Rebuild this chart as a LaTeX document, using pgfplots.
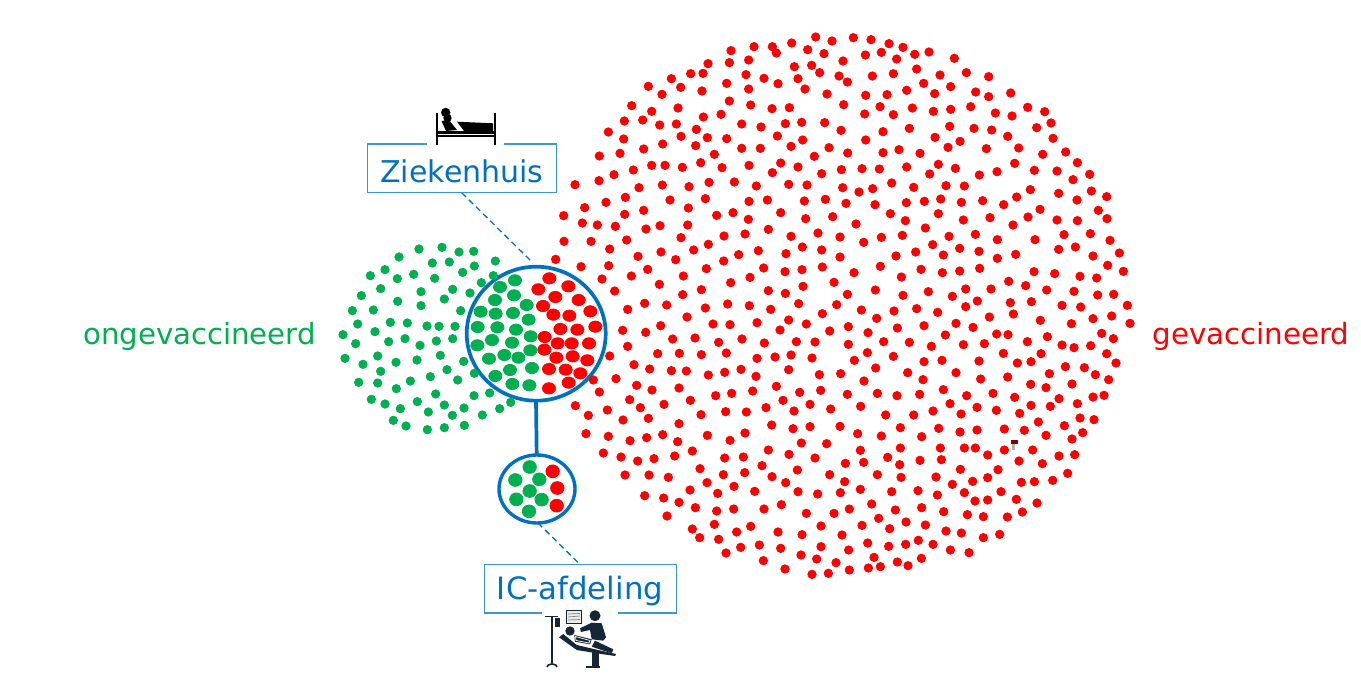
\documentclass[border=0pt]{standalone}
\usepackage{fontspec}
\setmainfont{DejaVu Sans}
\usepackage{pgfplots}
\pgfplotsset{compat=1.18}
\definecolor{cGreen}{RGB}{0,176,80}
\definecolor{cRed}{RGB}{255,0,0}
\definecolor{cBlue}{RGB}{0,112,192}
\definecolor{cBox}{RGB}{60,150,215}
\definecolor{cIcon}{RGB}{22,38,54}
% dots are read from 3x crops of the picture: crop={left}{top} puts them back in pixels
\pgfplotsset{
  crop/.style n args={2}{x filter/.expression={x/3+#1},y filter/.expression={y/3+#2}},
  dot/.style={only marks,mark=*,color=#1,mark size=2.1pt},
  bigdot/.style={only marks,mark=*,color=#1,mark size=2.9pt,mark options={xscale=1.13,yscale=0.97}},
  icdot/.style={only marks,mark=*,color=#1,mark size=3.2pt,mark options={xscale=1.05}},
}
\begin{document}
\begin{tikzpicture}
\begin{axis}[
  scale only axis,width=680.5pt,height=336.5pt,
  xmin=0,xmax=1361,ymin=0,ymax=673,y dir=reverse,
  hide axis,clip=false]
\path (0,0) rectangle (1361,673);
% ongevaccineerd
\addplot[dot=cGreen,crop={330}{230}] coordinates {
(267,57)(336,52)(387,66)(431,64)(207,81)(307,99)(358,96)(433,108)(496,93)(165,119)(121,137)(202,146)(251,133)(314,145)(398,127)(490,137)(454,158)(152,176)(94,197)(273,185)(368,178)(420,189)(343,207)(203,214)(273,227)(392,242)(130,240)(67,242)(83,282)(181,277)(232,279)(291,288)(327,289)(375,289)(135,305)(39,314)(77,341)(176,335)(225,326)(270,346)(319,333)(368,326)(45,385)(143,378)(99,403)(198,397)(261,390)(331,376)(401,394)(152,424)(351,419)(433,430)(86,457)(143,459)(241,453)(301,440)(383,450)(199,476)(317,492)(432,497)(479,489)(124,508)(165,522)(262,515)(343,525)(542,517)(211,536)(295,546)(402,534)(509,536)(190,571)(228,588)(367,556)(457,555)(292,599)(343,593)(403,586)
};
% gevaccineerd, upper left
\addplot[dot=cRed,crop={550}{25}] coordinates {
(797,36)(846,48)(725,54)(612,65)(667,65)(543,77)(679,84)(773,74)(822,86)(596,105)(538,113)(474,116)(879,108)(733,125)(785,121)(809,143)(422,146)(459,145)(588,149)(364,161)(642,160)(744,161)(867,153)(892,171)(530,175)(684,176)(392,187)(295,184)(596,192)(456,198)(765,192)(336,208)(831,207)(538,228)(602,240)(245,242)(384,249)(666,251)(718,248)(881,239)(305,259)(513,268)(460,276)(223,288)(278,285)(329,300)(379,297)(575,297)(633,306)(706,296)(755,292)(824,293)(439,313)(175,321)(873,316)(393,334)(472,338)(221,342)(530,341)(682,333)(758,345)(338,357)(437,362)(575,370)(631,370)(723,364)(837,368)(281,372)(210,385)(148,393)(493,388)(793,394)(893,384)(452,413)(305,421)(345,421)(397,427)(516,428)(597,421)(692,414)(744,426)(250,435)(667,443)(815,446)(874,434)(192,449)(147,467)(75,479)(477,472)(553,471)(337,480)(417,485)(267,488)(619,483)(716,478)(771,480)(878,488)(226,517)(466,521)(360,525)(168,532)(597,529)(652,525)(763,528)(826,523)(888,535)(104,548)(415,549)(281,556)(224,568)(549,563)(500,571)(692,563)(41,572)(595,583)(767,581)(848,575)(97,594)(142,600)(196,604)(330,602)(413,600)(288,612)(655,613)(585,627)(522,633)(723,634)(804,624)(870,636)(393,638)(230,645)(42,649)(123,649)(475,658)(757,666)(179,672)(431,675)(625,677)(815,675)(333,681)(566,689)(708,686)(264,694)(870,696)(17,703)(377,704)(521,708)(93,725)(176,722)(293,733)(469,731)(641,729)(817,726)(705,740)(756,734)(244,753)(400,753)(156,762)(542,773)(600,757)(328,778)(852,772)(759,784)(194,798)(454,794)(655,797)(398,809)(706,805)(892,808)
};
% upper right
\addplot[dot=cRed,crop={850}{25}] coordinates {
(10,38)(63,44)(117,56)(159,67)(46,90)(94,82)(194,88)(237,81)(140,102)(313,100)(200,132)(349,143)(67,153)(130,146)(270,150)(416,155)(221,175)(302,185)(170,196)(482,204)(377,201)(47,211)(111,209)(254,206)(416,215)(90,245)(187,249)(302,253)(362,245)(533,247)(584,260)(44,267)(130,269)(250,259)(436,264)(486,273)(603,294)(299,304)(178,310)(372,310)(425,315)(560,308)(99,320)(255,337)(473,334)(609,340)(47,345)(330,349)(294,367)(409,371)(506,369)(147,374)(99,383)(210,385)(647,381)(578,388)(682,413)(265,418)(494,415)(36,431)(88,432)(170,426)(316,430)(441,440)(553,436)(621,438)(719,448)(239,447)(388,450)(669,464)(125,474)(288,482)(343,483)(191,487)(68,491)(27,501)(541,494)(724,498)(626,505)(770,515)(272,522)(500,516)(169,533)(223,529)(334,532)(398,527)(461,539)(681,525)(75,539)(745,556)(570,553)(121,566)(265,566)(534,576)(771,581)(166,587)(340,585)(420,578)(621,585)(682,587)(18,597)(489,600)(226,609)(721,626)(642,629)(376,628)(157,631)(297,634)(94,637)(41,652)(442,644)(555,644)(780,646)(626,673)(676,666)(248,659)(329,670)(387,679)(197,681)(808,684)(138,693)(280,690)(729,693)(442,700)(497,688)(773,721)(91,724)(820,739)(213,733)(329,738)(389,730)(277,743)(552,740)(614,746)(12,743)(690,754)(740,759)(154,756)(476,769)(527,782)(347,792)(423,792)(235,800)(76,795)(590,795)(672,799)(159,811)(743,810)(791,808)(307,814)
};
% lower left
\addplot[dot=cRed,crop={560}{300}] coordinates {
(254,10)(320,15)(203,28)(436,24)(503,12)(568,17)(632,28)(716,11)(830,14)(787,41)(381,51)(459,72)(510,74)(591,68)(686,60)(739,72)(302,77)(660,90)(809,93)(865,80)(188,91)(257,97)(338,117)(405,114)(476,127)(546,117)(613,129)(709,125)(765,126)(865,133)(203,139)(149,168)(293,161)(358,160)(424,164)(499,159)(591,175)(645,171)(693,165)(756,174)(222,194)(269,207)(334,212)(379,213)(445,225)(494,217)(543,208)(588,229)(686,209)(778,224)(842,221)(168,236)(100,240)(230,256)(357,264)(276,270)(649,259)(515,280)(578,273)(467,287)(719,277)(782,271)(862,283)(118,276)(209,299)(391,301)(312,313)(241,323)(669,301)(750,313)(618,323)(46,317)(142,330)(702,333)(812,327)(497,335)(559,336)(85,346)(423,344)(265,355)(189,360)(357,371)(635,375)(699,386)(750,380)(840,379)(78,401)(145,409)(555,399)(442,406)(308,404)(260,413)(210,422)(353,425)(510,421)(724,429)(800,431)(625,450)(397,453)(130,459)(183,471)(344,468)(494,474)(550,471)(687,463)(233,483)(282,476)(765,474)(856,490)(606,497)(420,506)(712,510)(195,525)(267,525)(325,532)(490,524)(554,518)(636,530)(809,524)(441,548)(677,548)(854,545)(522,559)(390,570)(584,574)(473,580)(714,575)(773,582)(841,578)(254,587)(311,594)(357,607)(406,623)(664,614)(470,633)(521,627)(612,627)(739,640)(822,640)(868,627)(321,648)(463,673)(572,679)(783,678)(397,687)(530,696)(654,696)(726,704)(846,705)(419,713)(476,718)(598,735)(542,742)(662,745)(783,740)(866,750)(498,759)(723,765)(770,777)(610,782)(828,788)(675,807)(756,823)(805,820)(868,810)
};
% lower right
\addplot[dot=cRed,crop={850}{300}] coordinates {
(481,8)(544,5)(382,3)(347,20)(34,30)(132,33)(200,26)(263,37)(636,16)(692,21)(832,16)(490,42)(418,51)(80,55)(571,61)(729,56)(785,48)(664,71)(840,70)(318,70)(222,77)(369,82)(142,84)(54,98)(440,102)(474,104)(286,105)(755,100)(592,110)(790,116)(101,125)(178,127)(532,125)(403,131)(340,134)(244,139)(636,135)(672,143)(722,137)(52,158)(460,160)(573,161)(770,161)(130,169)(13,181)(222,185)(276,181)(387,183)(502,189)(543,185)(798,189)(646,200)(77,204)(703,203)(173,218)(318,218)(598,221)(736,224)(473,231)(219,239)(392,237)(42,243)(776,239)(542,253)(666,252)(588,263)(280,269)(82,280)(209,283)(429,280)(141,287)(350,287)(494,292)(762,286)(729,291)(627,296)(300,311)(682,311)(543,316)(601,319)(32,319)(381,322)(439,331)(249,333)(333,342)(107,345)(191,345)(509,340)(690,354)(732,359)(565,366)(151,383)(266,385)(463,387)(381,390)(523,391)(643,377)(330,396)(698,398)(23,401)(94,408)(215,410)(588,406)(666,417)(151,444)(271,444)(343,444)(376,444)(31,451)(463,450)(548,450)(413,465)(113,472)(627,468)(674,464)(210,481)(274,479)(41,487)(507,483)(577,491)(149,494)(331,508)(444,509)(653,520)(82,524)(153,532)(258,531)(413,533)(368,544)(514,547)(553,545)(608,541)(307,553)(31,568)(125,575)(204,572)(343,578)(453,575)(262,585)(499,598)(375,603)(413,600)(65,612)(561,609)(136,630)(215,623)(517,636)(281,635)(352,644)(400,650)(472,651)(86,655)(168,666)(36,676)(226,675)(119,686)(288,693)(334,699)(400,713)(449,703)(53,729)(205,721)(116,739)(167,733)(249,733)(301,750)(357,758)(72,772)(214,775)(142,786)(174,797)(91,800)(55,804)
};
% leader lines and lens circles, white inside so they hide the dots below
\draw[cBlue,line width=0.65pt,dash pattern=on 3pt off 2pt] (461.7,192.7) -- (533,263);
\draw[cBlue,line width=0.65pt,dash pattern=on 3pt off 2pt] (538,523) -- (580,564.5);
\draw[cBlue,line width=1.85pt,fill=white] (536.2,333.7) ellipse [x radius=69.5,y radius=67];
\draw[cBlue,line width=1.85pt] (536,401) -- (536.7,455);
\draw[cBlue,line width=1.7pt,fill=white] (537,489) ellipse [x radius=38,y radius=34];
% ziekenhuis lens
\addplot[bigdot=cGreen,crop={330}{230}] coordinates {
(555,151)(510,171)(552,196)(495,210)(590,225)(452,245)(497,251)(549,249)(596,269)(443,291)(502,292)(558,299)(602,319)(486,330)(546,338)(442,346)(601,361)(523,375)(565,383)(477,386)(540,420)(606,414)(496,438)(547,462)(598,466)
};
\addplot[bigdot=cRed,crop={330}{230}] coordinates {
(658,145)(715,169)(625,178)(676,201)(746,210)(639,228)(781,244)(670,254)(718,257)(691,297)(742,299)(796,290)(644,321)(683,340)(725,340)(777,340)(643,359)(679,383)(728,379)(772,391)(657,417)(707,419)(751,430)(716,458)(657,475)
};
% IC lens
\addplot[icdot=cGreen,crop={330}{230}] coordinates {
(599,711)(556,750)(628,748)(599,783)(559,808)(635,809)(597,844)
};
\addplot[icdot=cRed,crop={330}{230}] coordinates {
(668,724)(682,774)(680,827)
};
% boxes and labels
\draw[cBox,line width=0.55pt] (426.7,144) -- (367.3,144) -- (367.3,192.3) -- (556.7,192.3) -- (556.7,144) -- (504,144);
\draw[cBox,line width=0.55pt] (541.7,613) -- (484.7,613) -- (484.7,564.7) -- (676.7,564.7) -- (676.7,613) -- (617.7,613);
\node[text=cBlue,font=\fontsize{15}{18}\selectfont] at (462,171) {Ziekenhuis};
\node[text=cBlue,font=\fontsize{15.4}{18}\selectfont] at (580,591) {IC-afdeling};
\node[text=cGreen,font=\fontsize{14.6}{18}\selectfont] at (199.5,336) {ongevaccineerd};
\node[text=cRed,font=\fontsize{14.65}{18}\selectfont] at (1251,336) {gevaccineerd};
% bed icon
\fill[black] (436.3,113) rectangle (438.3,145);
\fill[black] (493.8,113) rectangle (495.8,145);
\fill[black] (438,131) rectangle (494,134.2);
\fill[black] (438,135) rectangle (494,137);
\fill[black] (457,121.7) -- (493,123.3) -- (493,131) -- (464,131) -- cycle;
\fill[black] (445.7,112.5) circle [radius=4.7];
\fill[black] (447.5,118) circle [radius=4.2];
\fill[black] (441.5,121) -- (449,120) -- (457,130) -- (446,131) -- cycle;
% IC icon
\fill[cIcon] (551,616.7) rectangle (553,665);
\fill[cIcon] (545,616.4) rectangle (558,617.4);
\fill[cIcon] (555.3,618.3) rectangle (560,626.7);
\draw[cIcon,line width=0.8pt] (547,667) arc [start angle=180,end angle=360,x radius=5,y radius=3];
\draw[cIcon,line width=0.5pt,fill=white!92!black] (566.3,610.3) rectangle (581.4,623.8);
\draw[gray,line width=0.35pt] (568,614) -- (580,613.5) (568,617) -- (580,616) (568,620) -- (580,619.5);
\fill[cIcon] (595,615.7) circle [radius=5.5];
\fill[cIcon] (580,628.3) -- (591.7,622.7) -- (601.7,623.3) -- (606,637.3) -- (603.3,640.7) -- (591.7,639.3) -- (590,630) -- (581,632) -- cycle;
\fill[cIcon] (570,631) circle [radius=4.7];
\fill[cIcon] (574.3,635) -- (591.7,639.3) -- (590,644.3) -- (575,641.7) -- cycle;
\draw[white,line width=0.35pt] (575.5,636.5) -- (590,640.5) -- (589,643) -- (576,640.5) -- cycle;
\fill[cIcon] (595,640.7) -- (613.3,649.3) -- (611.7,653.3) -- (591.7,646.7) -- cycle;
\fill[cIcon] (559,637.3) -- (576.7,650) -- (596.7,653.3) -- (615,656) -- (616,654) -- (595,649.3) -- (576.7,645) -- (563.3,634) -- cycle;
\fill[cIcon] (591.7,651.7) rectangle (599,666);
\fill[cIcon] (586,665.7) rectangle (600,668.3);
% small stray picture in the cloud
\fill[red!50!black] (1010.5,440.5) rectangle (1018,444.5);
\fill[gray!60] (1012,444.5) rectangle (1014.5,450);
\end{axis}
\end{tikzpicture}
\end{document}
